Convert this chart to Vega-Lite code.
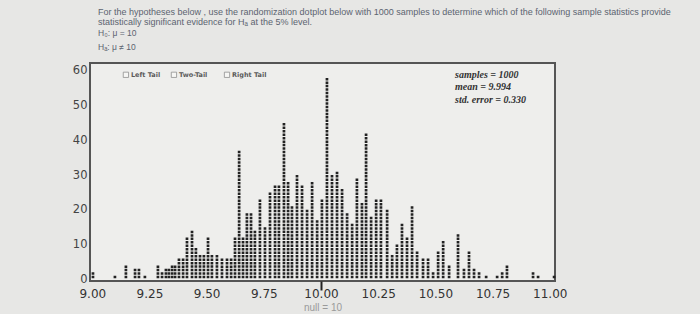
{
  "$schema": "https://vega.github.io/schema/vega-lite/v6.json",
  "width": 465,
  "height": 218,
  "autosize": "none",
  "padding": {"left": 90, "top": 63, "right": 145, "bottom": 33},
  "background": "#e7e7e5",
  "config": {"view": {"stroke": "#555555", "strokeWidth": 2, "fill": "#eeeeec"}, "font": "Liberation Sans"},
  "title": {
    "text": ["For the hypotheses below , use the randomization dotplot below with 1000 samples to determine which of the following sample statistics provide", "statistically significant evidence for Hₐ at the 5% level."],
    "subtitle": ["H₀: μ = 10", "Hₐ: μ ≠ 10"],
    "anchor": "start", "frame": "group", "dx": 8, "offset": 12,
    "font": "Liberation Sans", "fontSize": 9, "fontWeight": "normal", "color": "#5c6470", "lineHeight": 10,
    "subtitleFont": "Liberation Sans", "subtitleFontSize": 8.5, "subtitleColor": "#5c6470", "subtitleLineHeight": 14, "subtitlePadding": 2
  },
  "resolve": {"axis": {"x": "independent", "y": "independent"}},
  "data": {"values": [
    {"value": 9.003, "count": 2}, {"value": 9.099, "count": 1}, {"value": 9.147, "count": 4},
    {"value": 9.187, "count": 3}, {"value": 9.204, "count": 3}, {"value": 9.230, "count": 1},
    {"value": 9.287, "count": 4}, {"value": 9.305, "count": 2}, {"value": 9.322, "count": 3},
    {"value": 9.335, "count": 3}, {"value": 9.349, "count": 4}, {"value": 9.362, "count": 4},
    {"value": 9.379, "count": 6}, {"value": 9.397, "count": 6}, {"value": 9.414, "count": 12},
    {"value": 9.436, "count": 14}, {"value": 9.453, "count": 9}, {"value": 9.471, "count": 7},
    {"value": 9.488, "count": 7}, {"value": 9.506, "count": 12}, {"value": 9.523, "count": 7},
    {"value": 9.545, "count": 7}, {"value": 9.567, "count": 6}, {"value": 9.589, "count": 6},
    {"value": 9.607, "count": 6}, {"value": 9.624, "count": 12}, {"value": 9.642, "count": 37},
    {"value": 9.659, "count": 12}, {"value": 9.676, "count": 19}, {"value": 9.694, "count": 19},
    {"value": 9.711, "count": 14}, {"value": 9.733, "count": 23}, {"value": 9.755, "count": 15},
    {"value": 9.777, "count": 25}, {"value": 9.799, "count": 27}, {"value": 9.816, "count": 27},
    {"value": 9.838, "count": 45}, {"value": 9.856, "count": 28}, {"value": 9.873, "count": 21},
    {"value": 9.895, "count": 30}, {"value": 9.917, "count": 27}, {"value": 9.939, "count": 20},
    {"value": 9.961, "count": 28}, {"value": 9.983, "count": 17}, {"value": 10.004, "count": 23},
    {"value": 10.026, "count": 58}, {"value": 10.048, "count": 30}, {"value": 10.070, "count": 31},
    {"value": 10.092, "count": 26}, {"value": 10.114, "count": 19}, {"value": 10.136, "count": 16},
    {"value": 10.157, "count": 29}, {"value": 10.179, "count": 22}, {"value": 10.197, "count": 42},
    {"value": 10.219, "count": 18}, {"value": 10.241, "count": 23}, {"value": 10.262, "count": 23},
    {"value": 10.289, "count": 20}, {"value": 10.311, "count": 7}, {"value": 10.332, "count": 10},
    {"value": 10.354, "count": 16}, {"value": 10.376, "count": 12}, {"value": 10.398, "count": 21},
    {"value": 10.420, "count": 8}, {"value": 10.446, "count": 6}, {"value": 10.468, "count": 6},
    {"value": 10.490, "count": 2}, {"value": 10.512, "count": 8}, {"value": 10.534, "count": 11},
    {"value": 10.560, "count": 4}, {"value": 10.599, "count": 13}, {"value": 10.625, "count": 3},
    {"value": 10.647, "count": 8}, {"value": 10.669, "count": 3}, {"value": 10.691, "count": 2},
    {"value": 10.722, "count": 1}, {"value": 10.770, "count": 1}, {"value": 10.792, "count": 2},
    {"value": 10.813, "count": 4}, {"value": 10.927, "count": 2}, {"value": 10.949, "count": 1},
    {"value": 11.019, "count": 1}
  ]},
  "layer": [
    {
      "mark": {"type": "rule", "strokeWidth": 2.7, "strokeDash": [2.5, 0.97], "color": "#222222"},
      "encoding": {
        "x": {"field": "value", "type": "quantitative",
          "scale": {"domain": [8.99, 11.023], "nice": false, "zero": false},
          "axis": {"values": [9, 9.25, 9.5, 9.75, 10, 10.25, 10.5, 10.75, 11], "format": ".2f",
            "title": "null = 10", "titleFont": "Liberation Sans", "titleFontSize": 10, "titleColor": "#9a9a9a", "titleFontWeight": "normal", "titlePadding": 3,
            "labelFont": "DejaVu Sans", "labelFontSize": 12, "labelColor": "#333333", "labelFlush": false, "labelPadding": -2, "labelOverlap": false,
            "domain": false, "grid": false, "tickSize": 9, "tickWidth": 2,
            "tickColor": {"condition": {"test": "datum.value == 10", "value": "#222222"}, "value": "transparent"}}},
        "y": {"field": "count", "type": "quantitative",
          "scale": {"domain": [-0.5, 62.3], "nice": false, "zero": false},
          "axis": {"values": [0, 10, 20, 30, 40, 50, 60], "title": null, "domain": false, "ticks": false, "grid": false, "labelOverlap": false,
            "labelFont": "DejaVu Sans", "labelFontSize": 11.5, "labelColor": "#444444", "labelPadding": 3}},
        "y2": {"datum": 0}
      }
    },
    {
      "data": {"values": [{}]},
      "mark": {"type": "text", "text": ["samples = 1000", "mean = 9.994", "std. error = 0.330"], "lineHeight": 12.5,
        "align": "left", "baseline": "middle", "font": "Liberation Serif", "fontStyle": "italic", "fontWeight": "bold", "fontSize": 10, "fill": "#333333"},
      "encoding": {"x": {"datum": 10.586, "type": "quantitative", "axis": null}, "y": {"datum": 58.9, "type": "quantitative", "axis": null}}
    },
    {
      "data": {"values": [{}]},
      "mark": {"type": "point", "shape": "square", "size": 28, "filled": false, "fill": "#f6f6f4", "fillOpacity": 1, "stroke": "#8f8f8f", "strokeWidth": 0.8},
      "encoding": {"x": {"datum": 9.147, "type": "quantitative", "axis": null}, "y": {"datum": 58.9, "type": "quantitative", "axis": null}}
    },
    {
      "data": {"values": [{}]},
      "mark": {"type": "point", "shape": "square", "size": 28, "filled": false, "fill": "#f6f6f4", "fillOpacity": 1, "stroke": "#8f8f8f", "strokeWidth": 0.8},
      "encoding": {"x": {"datum": 9.357, "type": "quantitative", "axis": null}, "y": {"datum": 58.9, "type": "quantitative", "axis": null}}
    },
    {
      "data": {"values": [{}]},
      "mark": {"type": "point", "shape": "square", "size": 28, "filled": false, "fill": "#f6f6f4", "fillOpacity": 1, "stroke": "#8f8f8f", "strokeWidth": 0.8},
      "encoding": {"x": {"datum": 9.589, "type": "quantitative", "axis": null}, "y": {"datum": 58.9, "type": "quantitative", "axis": null}}
    },
    {
      "data": {"values": [{}]},
      "mark": {"type": "text", "text": "Left Tail", "align": "left", "baseline": "middle", "font": "DejaVu Sans", "fontSize": 6.5, "fontWeight": "bold", "fill": "#5a5a5a"},
      "encoding": {"x": {"datum": 9.169, "type": "quantitative", "axis": null}, "y": {"datum": 58.9, "type": "quantitative", "axis": null}}
    },
    {
      "data": {"values": [{}]},
      "mark": {"type": "text", "text": "Two-Tail", "align": "left", "baseline": "middle", "font": "DejaVu Sans", "fontSize": 6.5, "fontWeight": "bold", "fill": "#5a5a5a"},
      "encoding": {"x": {"datum": 9.379, "type": "quantitative", "axis": null}, "y": {"datum": 58.9, "type": "quantitative", "axis": null}}
    },
    {
      "data": {"values": [{}]},
      "mark": {"type": "text", "text": "Right Tail", "align": "left", "baseline": "middle", "font": "DejaVu Sans", "fontSize": 6.5, "fontWeight": "bold", "fill": "#5a5a5a"},
      "encoding": {"x": {"datum": 9.611, "type": "quantitative", "axis": null}, "y": {"datum": 58.9, "type": "quantitative", "axis": null}}
    }
  ]
}
